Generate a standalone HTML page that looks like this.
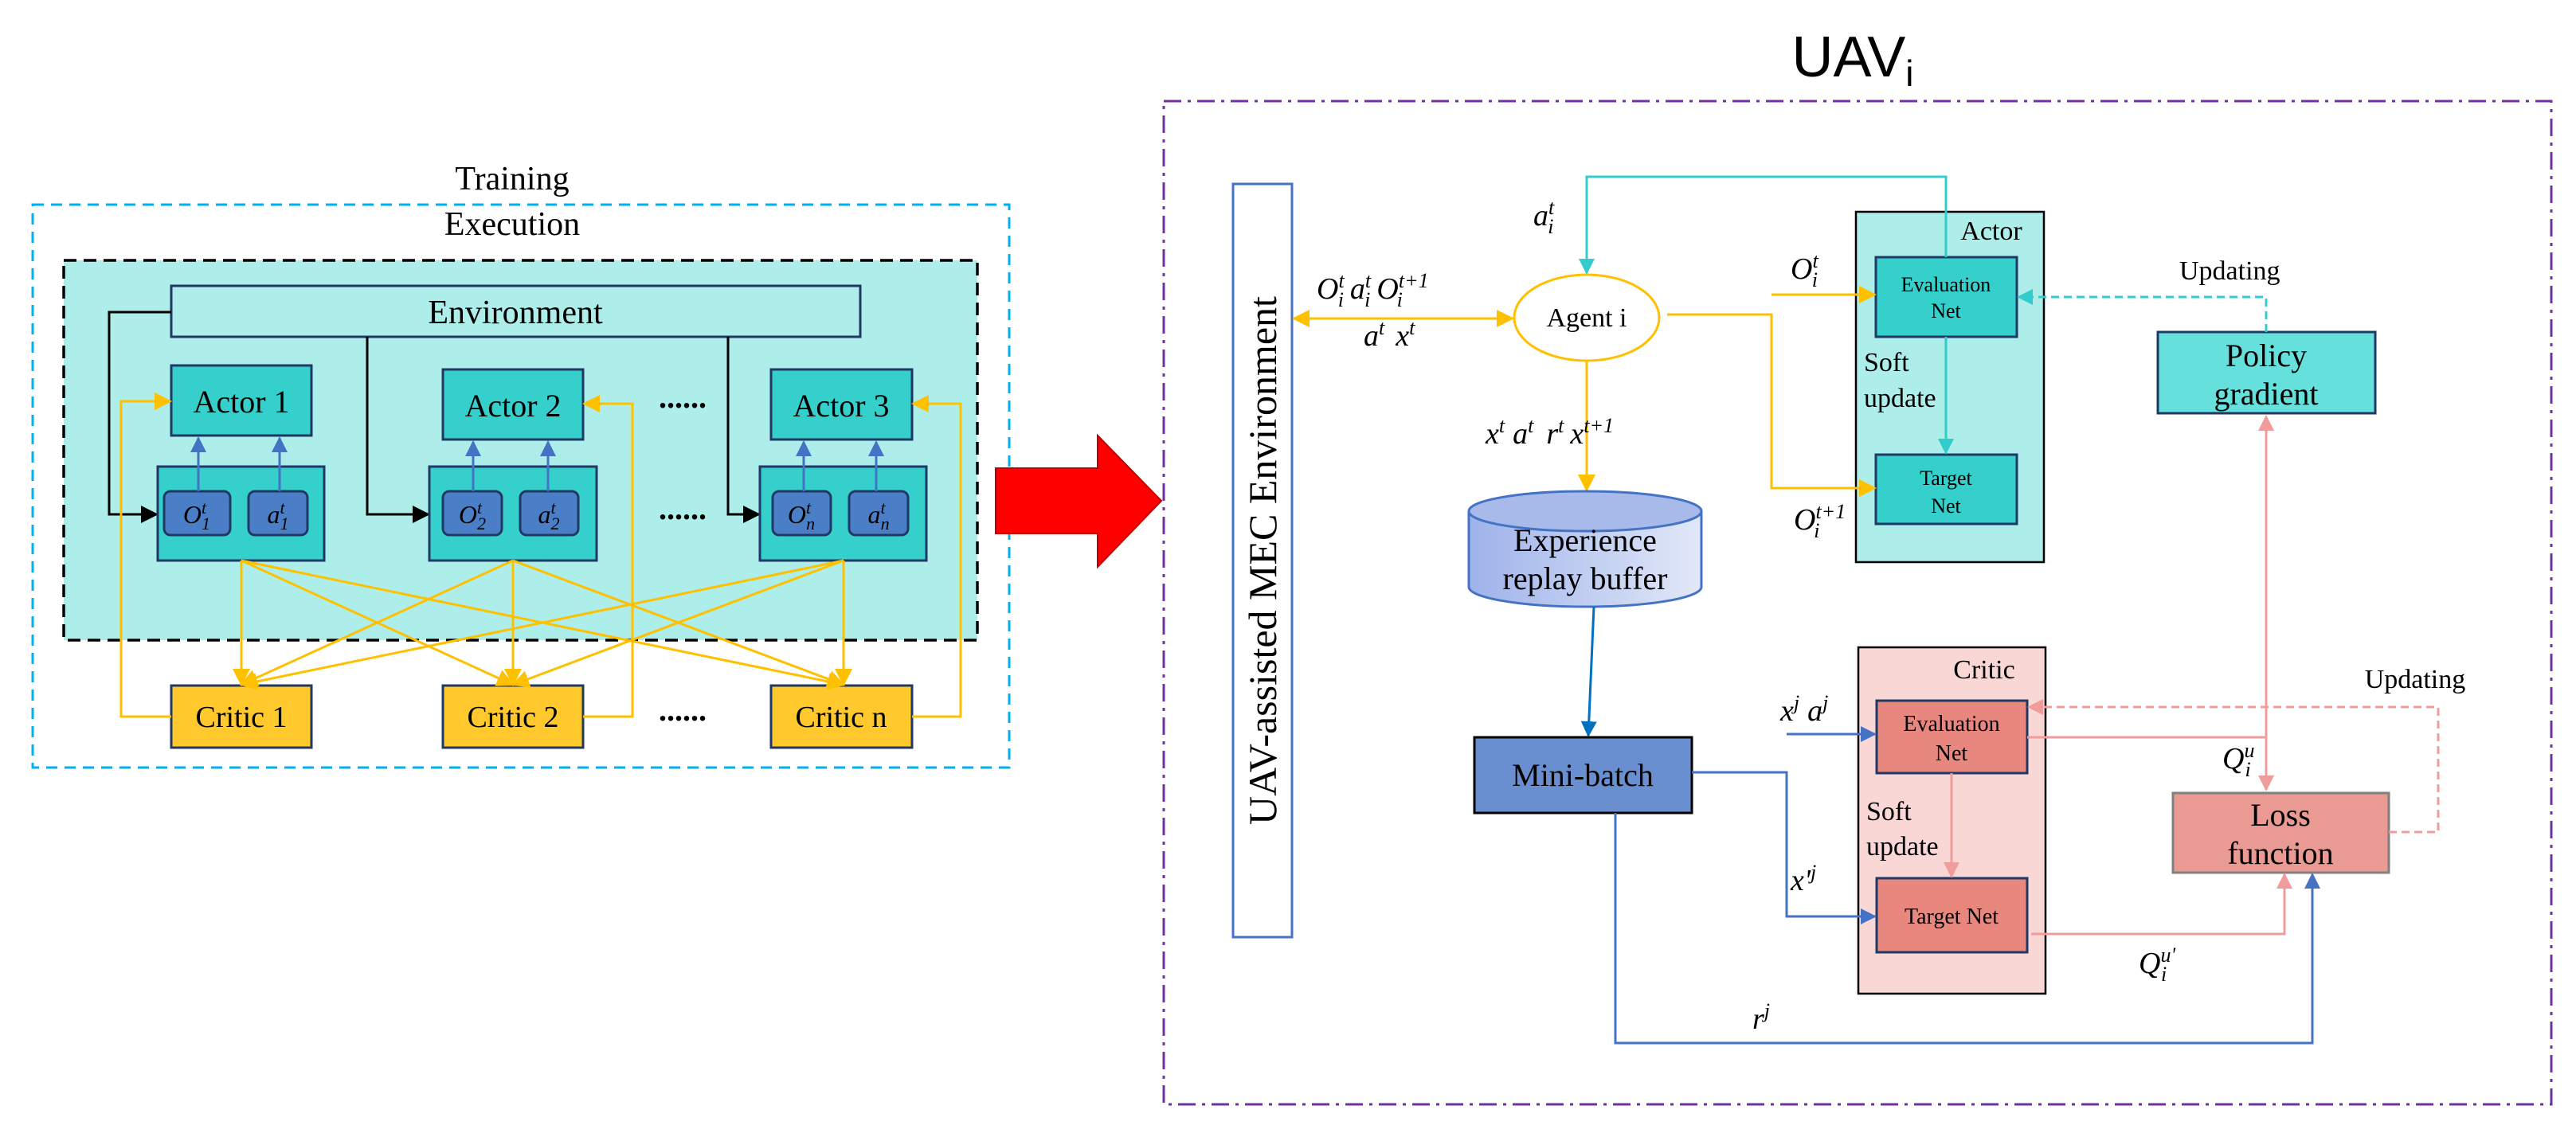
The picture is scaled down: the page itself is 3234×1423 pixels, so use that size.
<!DOCTYPE html>
<html><head><meta charset="utf-8"><style>
html,body{margin:0;padding:0;background:#fff}
svg{display:block}
text{font-family:"Liberation Serif",serif}
.m{font-style:italic;font-size:38px}
</style></head><body>
<svg width="3234" height="1423" viewBox="0 0 3234 1423" xmlns="http://www.w3.org/2000/svg">
<defs>
<marker id="ayL" markerWidth="22" markerHeight="22" refX="20" refY="11" orient="auto" markerUnits="userSpaceOnUse"><path d="M0,0 L22,11 L0,22z" fill="#ffc000"/></marker>
<marker id="ayS" markerWidth="22" markerHeight="22" refX="2" refY="11" orient="auto" markerUnits="userSpaceOnUse"><path d="M22,0 L0,11 L22,22z" fill="#ffc000"/></marker>
<marker id="ak" markerWidth="22" markerHeight="22" refX="20" refY="11" orient="auto" markerUnits="userSpaceOnUse"><path d="M0,0 L22,11 L0,22z" fill="#000"/></marker>
<marker id="ab" markerWidth="20" markerHeight="20" refX="18" refY="10" orient="auto" markerUnits="userSpaceOnUse"><path d="M0,0 L20,10 L0,20z" fill="#4472c4"/></marker>
<marker id="ab2" markerWidth="20" markerHeight="20" refX="18" refY="10" orient="auto" markerUnits="userSpaceOnUse"><path d="M0,0 L20,10 L0,20z" fill="#0070c0"/></marker>
<marker id="ac" markerWidth="20" markerHeight="20" refX="18" refY="10" orient="auto" markerUnits="userSpaceOnUse"><path d="M0,0 L20,10 L0,20z" fill="#33cccc"/></marker>
<marker id="ap" markerWidth="20" markerHeight="20" refX="18" refY="10" orient="auto" markerUnits="userSpaceOnUse"><path d="M0,0 L20,10 L0,20z" fill="#f19c9c"/></marker>
<marker id="apS" markerWidth="20" markerHeight="20" refX="2" refY="10" orient="auto" markerUnits="userSpaceOnUse"><path d="M20,0 L0,10 L20,20z" fill="#f19c9c"/></marker>
<linearGradient id="cyl" x1="0" x2="1" y1="0" y2="0"><stop offset="0" stop-color="#9fb3ea"/><stop offset="1" stop-color="#e2e8f8"/></linearGradient>
</defs>

<!-- LEFT -->
<text x="643" y="238" font-size="42" text-anchor="middle">Training</text>
<text x="643" y="295" font-size="42" text-anchor="middle">Execution</text>
<rect x="41" y="257" width="1226" height="707" fill="none" stroke="#00b0f0" stroke-width="3" stroke-dasharray="14,9"/>
<rect x="80" y="327" width="1147" height="477" fill="#aeeeea" stroke="#000" stroke-width="3.5" stroke-dasharray="16,9"/>
<rect x="215" y="359" width="865" height="64" fill="#aeeeea" stroke="#1f3864" stroke-width="3"/>
<text x="647" y="406" font-size="42" text-anchor="middle">Environment</text>
<g fill="none" stroke="#000" stroke-width="3">
<path d="M215,392 H137 V646 H197" marker-end="url(#ak)"/>
<path d="M461,423 V646 H538" marker-end="url(#ak)"/>
<path d="M914,423 V646 H953" marker-end="url(#ak)"/>
</g>
<g fill="#36d0cc" stroke="#1f3864" stroke-width="3">
<rect x="215" y="459" width="176" height="88"/>
<rect x="556" y="464" width="176" height="88"/>
<rect x="968" y="464" width="177" height="88"/>
<rect x="198" y="586" width="209" height="118"/>
<rect x="539" y="586" width="210" height="118"/>
<rect x="954" y="586" width="209" height="118"/>
</g>
<g font-size="40" text-anchor="middle">
<text x="303" y="518">Actor 1</text><text x="644" y="523">Actor 2</text><text x="1056" y="523">Actor 3</text>
</g>
<g fill="#4a7fc8" stroke="#1f3864" stroke-width="3">
<rect x="206" y="617" width="83" height="55" rx="8"/><rect x="312" y="617" width="74" height="55" rx="8"/>
<rect x="556" y="617" width="74" height="55" rx="8"/><rect x="653" y="617" width="73" height="55" rx="8"/>
<rect x="970" y="617" width="73" height="55" rx="8"/><rect x="1066" y="617" width="74" height="55" rx="8"/>
</g>
<g class="m" text-anchor="middle" style="font-size:32px">
<text x="247" y="657">O<tspan font-size="22" dy="-12">t</tspan><tspan font-size="22" dx="-6" dy="20">1</tspan></text>
<text x="349" y="657">a<tspan font-size="22" dy="-12">t</tspan><tspan font-size="22" dx="-6" dy="20">1</tspan></text>
<text x="593" y="657">O<tspan font-size="22" dy="-12">t</tspan><tspan font-size="22" dx="-6" dy="20">2</tspan></text>
<text x="689" y="657">a<tspan font-size="22" dy="-12">t</tspan><tspan font-size="22" dx="-6" dy="20">2</tspan></text>
<text x="1006" y="657">O<tspan font-size="22" dy="-12">t</tspan><tspan font-size="22" dx="-6" dy="20">n</tspan></text>
<text x="1103" y="657">a<tspan font-size="22" dy="-12">t</tspan><tspan font-size="22" dx="-6" dy="20">n</tspan></text>
</g>
<g stroke="#4472c4" stroke-width="3" fill="none">
<path d="M249,617 V550" marker-end="url(#ab)"/><path d="M351,617 V550" marker-end="url(#ab)"/>
<path d="M594,617 V555" marker-end="url(#ab)"/><path d="M688,617 V555" marker-end="url(#ab)"/>
<path d="M1009,617 V555" marker-end="url(#ab)"/><path d="M1100,617 V555" marker-end="url(#ab)"/>
</g>
<g font-size="40" text-anchor="middle" font-weight="bold"><text x="857" y="512">......</text><text x="857" y="652">......</text><text x="857" y="905">......</text></g>
<g fill="#ffc82c" stroke="#1f3864" stroke-width="3">
<rect x="215" y="861" width="176" height="78"/><rect x="556" y="861" width="176" height="78"/><rect x="968" y="861" width="177" height="78"/>
</g>
<g font-size="38" text-anchor="middle"><text x="303" y="913">Critic 1</text><text x="644" y="913">Critic 2</text><text x="1056" y="913">Critic n</text></g>
<g stroke="#ffc000" stroke-width="3" fill="none">
<path d="M303,704 L303,860" marker-end="url(#ayL)"/><path d="M303,704 L644,860" marker-end="url(#ayL)"/><path d="M303,704 L1059,860" marker-end="url(#ayL)"/>
<path d="M644,704 L303,860" marker-end="url(#ayL)"/><path d="M644,704 L644,860" marker-end="url(#ayL)"/><path d="M644,704 L1059,860" marker-end="url(#ayL)"/>
<path d="M1059,704 L303,860" marker-end="url(#ayL)"/><path d="M1059,704 L644,860" marker-end="url(#ayL)"/><path d="M1059,704 L1059,860" marker-end="url(#ayL)"/>
<path d="M215,900 H152 V504 H214" marker-end="url(#ayL)"/>
<path d="M732,900 H794 V507 H733" marker-end="url(#ayL)"/>
<path d="M1145,900 H1206 V507 H1146" marker-end="url(#ayL)"/>
</g>
<path d="M1250,588 H1378 V547 L1458,629 L1378,712 V670 H1250z" fill="#ff0000" stroke="#c00000" stroke-width="2"/>

<!-- RIGHT -->
<text x="2326" y="96" font-size="72" text-anchor="middle" style="font-family:'Liberation Sans',sans-serif">UAV<tspan font-size="46" dy="12">i</tspan></text>
<rect x="1461" y="127" width="1742" height="1260" fill="none" stroke="#7030a0" stroke-width="3" stroke-dasharray="22,8,4,8"/>
<rect x="1548" y="231" width="74" height="946" fill="#fff" stroke="#4472c4" stroke-width="3"/>
<text transform="translate(1602,704) rotate(-90)" font-size="50" text-anchor="middle">UAV-assisted MEC Environment</text>
<ellipse cx="1992" cy="399" rx="91" ry="54" fill="#fff" stroke="#ffc000" stroke-width="3"/>
<text x="1992" y="410" font-size="34" text-anchor="middle">Agent i</text>

<rect x="2330" y="266" width="236" height="440" fill="#aeeeea" stroke="#000" stroke-width="2.5"/>
<text x="2500" y="301" font-size="34" text-anchor="middle">Actor</text>
<rect x="2355" y="323" width="177" height="100" fill="#36d0cc" stroke="#1f3864" stroke-width="3"/>
<text x="2443" y="366" font-size="26" text-anchor="middle">Evaluation</text><text x="2443" y="399" font-size="26" text-anchor="middle">Net</text>
<rect x="2355" y="571" width="177" height="87" fill="#36d0cc" stroke="#1f3864" stroke-width="3"/>
<text x="2443" y="609" font-size="26" text-anchor="middle">Target</text><text x="2443" y="644" font-size="26" text-anchor="middle">Net</text>
<text x="2340" y="466" font-size="34">Soft</text><text x="2340" y="511" font-size="34">update</text>

<g stroke="#ffc000" stroke-width="3" fill="none">
<path d="M1624,400 H1899" marker-start="url(#ayS)" marker-end="url(#ayL)"/>
<path d="M2093,395 H2224 V613 H2354" marker-end="url(#ayL)"/>
<path d="M2224,370 H2354" marker-end="url(#ayL)"/>
<path d="M1992,453 V616" marker-end="url(#ayL)"/>
</g>
<path d="M2443,323 V222 H1992 V343" fill="none" stroke="#33cccc" stroke-width="3" marker-end="url(#ac)"/>
<path d="M2443,423 V569" stroke="#33cccc" stroke-width="3" fill="none" marker-end="url(#ac)"/>

<g class="m">
<text x="1653" y="375">O<tspan font-size="26" dy="-14">t</tspan><tspan font-size="26" dx="-8" dy="24">i</tspan><tspan dx="8" dy="-10">a</tspan><tspan font-size="26" dy="-14">t</tspan><tspan font-size="26" dx="-8" dy="24">i</tspan><tspan dx="8" dy="-10">O</tspan><tspan font-size="26" dy="-14">t+1</tspan><tspan font-size="26" dx="-40" dy="24">i</tspan></text>
<text x="1712" y="434">a<tspan font-size="26" dy="-14">t</tspan><tspan dx="14" dy="14">x</tspan><tspan font-size="26" dy="-14">t</tspan></text>
<text x="1925" y="283">a<tspan font-size="26" dy="-14">t</tspan><tspan font-size="26" dx="-8" dy="24">i</tspan></text>
<text x="2248" y="350">O<tspan font-size="26" dy="-14">t</tspan><tspan font-size="26" dx="-8" dy="24">i</tspan></text>
<text x="2252" y="665">O<tspan font-size="26" dy="-14">t+1</tspan><tspan font-size="26" dx="-40" dy="24">i</tspan></text>
<text x="1865" y="557">x<tspan font-size="26" dy="-14">t</tspan><tspan dx="10" dy="14">a</tspan><tspan font-size="26" dy="-14">t</tspan><tspan dx="16" dy="14">r</tspan><tspan font-size="26" dy="-14">t</tspan><tspan dx="8" dy="14">x</tspan><tspan font-size="26" dy="-14">t+1</tspan></text>
<text x="2235" y="905">x<tspan font-size="26" dy="-14">j</tspan><tspan dx="10" dy="14">a</tspan><tspan font-size="26" dy="-14">j</tspan></text>
<text x="2248" y="1118">x'<tspan font-size="26" dy="-14">j</tspan></text>
<text x="2790" y="965">Q<tspan font-size="26" dy="-14">u</tspan><tspan font-size="26" dx="-12" dy="24">i</tspan></text>
<text x="2685" y="1222">Q<tspan font-size="26" dy="-14">u'</tspan><tspan font-size="26" dx="-18" dy="24">i</tspan></text>
<text x="2200" y="1292">r<tspan font-size="26" dy="-14">j</tspan></text>
</g>

<rect x="2709" y="417" width="273" height="102" fill="#66e0dc" stroke="#1f3864" stroke-width="3"/>
<text x="2845" y="460" font-size="40" text-anchor="middle">Policy</text><text x="2845" y="508" font-size="40" text-anchor="middle">gradient</text>
<text x="2736" y="351" font-size="34">Updating</text>
<path d="M2845,417 V373 H2534" fill="none" stroke="#33cccc" stroke-width="3" stroke-dasharray="10,6" marker-end="url(#ac)"/>
<path d="M1844,642 V737 A146,25 0 0 0 2136,737 V642" fill="url(#cyl)" stroke="#4472c4" stroke-width="3"/>
<ellipse cx="1990" cy="642" rx="146" ry="25" fill="#a8baea" stroke="#4472c4" stroke-width="3"/>
<text x="1990" y="692" font-size="40" text-anchor="middle">Experience</text><text x="1990" y="740" font-size="40" text-anchor="middle">replay buffer</text>
<path d="M2001,762 L1994,924" stroke="#0070c0" stroke-width="3" fill="none" marker-end="url(#ab2)"/>
<rect x="1851" y="926" width="273" height="95" fill="#6a8fd0" stroke="#000" stroke-width="3"/>
<text x="1987" y="987" font-size="40" text-anchor="middle">Mini-batch</text>
<rect x="2333" y="813" width="235" height="435" fill="#f8d7d5" stroke="#000" stroke-width="2.5"/>
<text x="2491" y="852" font-size="34" text-anchor="middle">Critic</text>
<rect x="2356" y="880" width="189" height="91" fill="#e8877e" stroke="#1f3864" stroke-width="3"/>
<text x="2450" y="918" font-size="28" text-anchor="middle">Evaluation</text><text x="2450" y="955" font-size="28" text-anchor="middle">Net</text>
<rect x="2356" y="1103" width="189" height="93" fill="#e8877e" stroke="#1f3864" stroke-width="3"/>
<text x="2450" y="1160" font-size="28" text-anchor="middle">Target Net</text>
<text x="2343" y="1030" font-size="34">Soft</text><text x="2343" y="1074" font-size="34">update</text>
<g stroke="#4472c4" stroke-width="3" fill="none">
<path d="M2124,970 H2243 V1151 H2354" marker-end="url(#ab)"/>
<path d="M2243,922 H2354" marker-end="url(#ab)"/>
<path d="M2028,1021 V1310 H2903 V1098" marker-end="url(#ab)"/>
</g>
<rect x="2728" y="996" width="271" height="100" fill="#e99a93" stroke="#808080" stroke-width="3"/>
<text x="2863" y="1037" font-size="40" text-anchor="middle">Loss</text><text x="2863" y="1085" font-size="40" text-anchor="middle">function</text>
<text x="3032" y="864" font-size="34" text-anchor="middle">Updating</text>
<g stroke="#f19c9c" stroke-width="3" fill="none">
<path d="M2450,971 V1101" marker-end="url(#ap)"/>
<path d="M2845,523 V992" marker-start="url(#apS)" marker-end="url(#ap)"/>
<path d="M2545,926 H2845"/>
<path d="M2550,1173 H2868 V1098" marker-end="url(#ap)"/>
<path d="M2999,1045 H3061 V888 H2547" stroke-dasharray="10,6" marker-end="url(#ap)"/>
</g>
</svg>
</body></html>
